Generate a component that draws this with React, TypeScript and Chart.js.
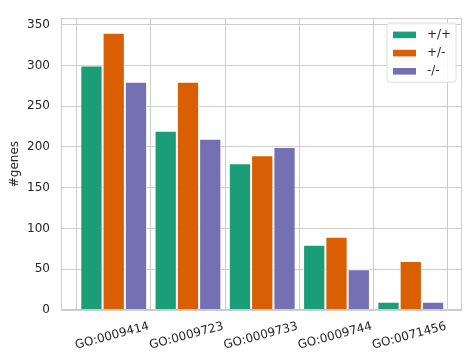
import React, { useEffect, useRef } from "react";
import { Chart, registerables } from "chart.js";

Chart.register(...registerables);

const categories = ["GO:0009414", "GO:0009723", "GO:0009733", "GO:0009744", "GO:0071456"];
const seriesNames = ["+/+", "+/-", "-/-"];
const seriesWT = [300, 220, 180, 80, 10];
const seriesHet = [340, 280, 190, 90, 60];
const seriesKO = [280, 210, 200, 50, 10];
const colors = ["#1b9e77", "#d95f02", "#7570b3"];
const yTicks = [0, 50, 100, 150, 200, 250, 300, 350];
const yLabel = "#genes";

const FONT = "'DejaVu Sans', sans-serif";
const TEXT = "#262626";

const overlay = {
  id: "overlay",
  afterDatasetsDraw(chart: any) {
    const { ctx, chartArea } = chart;
    const xs = chart.scales.x;
    ctx.save();
    // frame
    ctx.strokeStyle = "#cccccc";
    ctx.lineWidth = 1;
    ctx.strokeRect(
      Math.round(chartArea.left) + 0.5,
      Math.round(chartArea.top) + 0.5,
      Math.round(chartArea.right - chartArea.left) - 1,
      Math.round(chartArea.bottom - chartArea.top) - 1
    );
    // x tick labels rotated, centered
    ctx.fillStyle = TEXT;
    ctx.font = `12px ${FONT}`;
    ctx.textAlign = "center";
    ctx.textBaseline = "middle";
    categories.forEach((c, i) => {
      const px = xs.getPixelForValue(i) - 1.5;
      ctx.save();
      ctx.translate(px, chartArea.bottom + 26);
      ctx.rotate((-15 * Math.PI) / 180);
      ctx.fillText(c, 0, 0);
      ctx.restore();
    });
    // y label
    ctx.save();
    ctx.font = `12px ${FONT}`;
    ctx.translate(15, (chartArea.top + chartArea.bottom) / 2);
    ctx.rotate(-Math.PI / 2);
    ctx.textAlign = "center";
    ctx.textBaseline = "middle";
    ctx.fillText(yLabel, 0, 0);
    ctx.restore();
    // legend
    const lx = chartArea.right - 75;
    const ly = chartArea.top + 5;
    const lw = 69;
    const lh = 59;
    const r = 2.5;
    ctx.beginPath();
    ctx.moveTo(lx + r, ly);
    ctx.lineTo(lx + lw - r, ly);
    ctx.quadraticCurveTo(lx + lw, ly, lx + lw, ly + r);
    ctx.lineTo(lx + lw, ly + lh - r);
    ctx.quadraticCurveTo(lx + lw, ly + lh, lx + lw - r, ly + lh);
    ctx.lineTo(lx + r, ly + lh);
    ctx.quadraticCurveTo(lx, ly + lh, lx, ly + lh - r);
    ctx.lineTo(lx, ly + r);
    ctx.quadraticCurveTo(lx, ly, lx + r, ly);
    ctx.closePath();
    ctx.fillStyle = "rgba(255,255,255,0.85)";
    ctx.fill();
    ctx.strokeStyle = "#dddddd";
    ctx.lineWidth = 1;
    ctx.stroke();
    ctx.font = `12px ${FONT}`;
    ctx.textAlign = "left";
    ctx.textBaseline = "middle";
    chart.data.datasets.forEach((ds: any, i: number) => {
      const cy = ly + 11.7 + i * 18.2;
      ctx.fillStyle = ds.backgroundColor;
      ctx.fillRect(lx + 6, cy - 3.3, 23, 6.6);
      ctx.fillStyle = TEXT;
      ctx.fillText(ds.label, lx + 40, cy);
    });
    ctx.restore();
  },
};

export default function App() {
  const ref = useRef<HTMLCanvasElement | null>(null);
  useEffect(() => {
    document.body.style.margin = "0";
    const values = [seriesWT, seriesHet, seriesKO];
    const chart = new Chart(ref.current as HTMLCanvasElement, {
      type: "bar",
      data: {
        datasets: values.map((vals, s) => ({
          label: seriesNames[s],
          data: vals.map((v, i) => ({ x: i, y: v })),
          backgroundColor: colors[s],
          borderColor: "#ffffff",
          borderWidth: 1,
          categoryPercentage: 0.9,
          barPercentage: 1.0,
          grouped: true,
        })),
      },
      options: {
        animation: false,
        responsive: false,
        devicePixelRatio: 1,
        layout: { padding: { left: 0, top: 13, right: 12, bottom: 0 } },
        plugins: { legend: { display: false }, tooltip: { enabled: false } },
        scales: {
          x: {
            type: "linear",
            min: -0.71,
            max: 4.69,
            offset: false,
            grid: { color: "#cccccc", lineWidth: 1, drawTicks: false },
            border: { display: false },
            ticks: { display: false },
            afterBuildTicks: (scale: any) => {
              scale.ticks = categories.map((_, i) => ({ value: i }));
            },
            afterFit: (scale: any) => {
              scale.height = 51;
            },
          },
          y: {
            min: 0,
            max: 358,
            grid: { color: "#cccccc", lineWidth: 1, drawTicks: false },
            border: { display: false },
            ticks: {
              padding: 11,
              color: TEXT,
              font: { family: FONT, size: 12 },
            },
            afterBuildTicks: (scale: any) => {
              scale.ticks = yTicks.map((v) => ({ value: v }));
            },
            afterFit: (scale: any) => {
              scale.width = 61;
            },
          },
        },
      } as any,
      plugins: [overlay],
    });
    return () => chart.destroy();
  }, []);
  return (
    <div style={{ width: 474, height: 361 }}>
      <canvas ref={ref} width={474} height={361} style={{ display: "block" }} />
    </div>
  );
}
